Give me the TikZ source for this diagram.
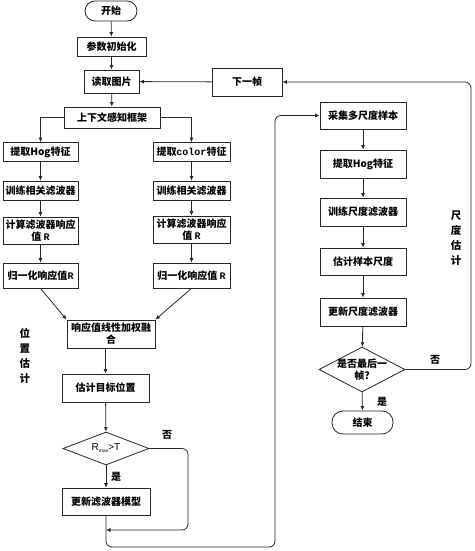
\documentclass[tikz,border=0pt]{standalone}
\usepackage{fontspec}
\usetikzlibrary{shapes.geometric,arrows.meta}
\newfontfamily\cjk{Noto Sans CJK SC}
\newfontfamily\monof{Liberation Mono}
\newfontfamily\arialf{Liberation Sans}
\tikzset{
  base/.style={draw=black!85,line width=0.8pt,font=\cjk\bfseries\fontsize{10pt}{12pt}\selectfont,align=center,inner sep=0pt},
  box/.style={base,rectangle},
  term/.style={base,rectangle,rounded corners=10pt},
  dec/.style={base,diamond,aspect=2.4},
  arr/.style={draw=black!85,line width=0.8pt,-{Latex[length=4.5pt,width=4pt]}},
  ln/.style={draw=black!85,line width=0.8pt},
  lbl/.style={font=\cjk\bfseries\fontsize{10pt}{12pt}\selectfont,inner sep=0pt},
  vlbl/.style={font=\cjk\bfseries\fontsize{10.5pt}{15pt}\selectfont,align=center,inner sep=0pt}
}
\begin{document}
\begin{tikzpicture}[x=1pt,y=-1pt]
\useasboundingbox (0,0) rectangle (474,551);
% left column
\node[term,minimum width=52pt,minimum height=20pt] (start) at (111,11) {开始};
\node[box,minimum width=69pt,minimum height=19pt] (init) at (111.5,46.5) {参数初始化};
\node[box,minimum width=55pt,minimum height=23pt] (read) at (111.5,81.5) {读取图片};
\node[box,minimum width=96pt,minimum height=21pt] (ctx) at (112,117.5) {上下文感知框架};
\node[box,minimum width=70pt,minimum height=28pt] (next) at (247,82) {下一帧};
\node[box,minimum width=75pt,minimum height=19pt] (hogL) at (40.5,152) {提取Hog特征};
\node[box,minimum width=77pt,minimum height=19pt] (colR) at (191.5,152) {提取{\monof\bfseries color}特征};
\node[box,minimum width=75pt,minimum height=19pt] (trL) at (40.5,190.5) {训练相关滤波器};
\node[box,minimum width=77pt,minimum height=19pt] (trR) at (191.5,190.5) {训练相关滤波器};
\node[box,minimum width=75pt,minimum height=27pt] (caL) at (40.5,230.5) {计算滤波器响应\\值 {\monof\bfseries R}};
\node[box,minimum width=77pt,minimum height=27pt] (caR) at (191.5,229.5) {计算滤波器响应\\值 {\monof\bfseries R}};
\node[box,minimum width=75pt,minimum height=25pt] (noL) at (40.5,275.5) {归一化响应值{\monof\bfseries R}};
\node[box,minimum width=77pt,minimum height=25pt] (noR) at (191.5,275.5) {归一化响应值 {\monof\bfseries R}};
\node[box,minimum width=88pt,minimum height=28pt] (fuse) at (111,334) {响应值线性加权融\\合};
\node[box,minimum width=87pt,minimum height=28pt] (est) at (105.5,388) {估计目标位置};
\node[dec,minimum width=86pt,minimum height=33pt] (d1) at (106,448.5) {\arialf\mdseries R\raisebox{-2pt}{\fontsize{5pt}{6pt}\selectfont max}>T};
\node[box,minimum width=88pt,minimum height=27pt] (upd) at (106,501.5) {更新滤波器模型};
% right column
\node[box,minimum width=86pt,minimum height=27pt] (samp) at (363,115.5) {采集多尺度样本};
\node[box,minimum width=86pt,minimum height=28pt] (hog2) at (363,164) {提取Hog特征};
\node[box,minimum width=86pt,minimum height=28pt] (trS) at (363,212) {训练尺度滤波器};
\node[box,minimum width=86pt,minimum height=27pt] (esS) at (363,261.5) {估计样本尺度};
\node[box,minimum width=86pt,minimum height=28pt] (upS) at (363,312) {更新尺度滤波器};
\node[dec,minimum width=86pt,minimum height=45pt,aspect=1.9] (d2) at (362,369.5) {};
\node[lbl,align=center] (d2t) at (362,369.5) {是否最后一\\帧?};
\node[term,minimum width=61pt,minimum height=23pt,rounded corners=11pt] (end) at (362.5,422.5) {结束};
% labels
\node[vlbl] (lpos) at (25,356) {位\\置\\估\\计};
\node[vlbl] (lsca) at (456,238.5) {尺\\度\\估\\计};
\node[lbl] (no1) at (167,435) {否};
\node[lbl] (yes1) at (116,477) {是};
\node[lbl] (no2) at (435,360) {否};
\node[lbl] (yes2) at (382,402) {是};
% coordinates
\coordinate (c1) at (188,530);
\coordinate (m1) at (106,530);
\coordinate (c2) at (275,547);
\coordinate (c3) at (471,82);
% connectors
\draw[arr] (start) -- (init);
\draw[arr] (init) -- (read);
\draw[arr] (read) -- (ctx);
\draw[arr] (ctx.west) -| (hogL.north);
\draw[arr] (ctx.east) -| (colR.north);
\draw[arr] (hogL) -- (trL);
\draw[arr] (trL) -- (caL);
\draw[arr] (caL) -- (noL);
\draw[arr] (colR) -- (trR);
\draw[arr] (trR) -- (caR);
\draw[arr] (caR) -- (noR);
\draw[arr] (noL.south) -- (fuse.north west);
\draw[arr] (noR.south) -- (fuse.north east);
\draw[arr] (est.north |- fuse.south) -- (est.north);
\draw[arr] (est) -- (d1);
\draw[arr] (d1) -- (upd);
\draw[arr,rounded corners=6pt] (d1.east) -| (c1) -- (m1);
\draw[arr,rounded corners=6pt] (upd.south) |- (c2) |- (samp.west);
\draw[arr] (samp) -- (hog2);
\draw[arr] (hog2) -- (trS);
\draw[arr] (trS) -- (esS);
\draw[arr] (esS) -- (upS);
\draw[arr] (upS) -- (d2);
\draw[arr] (d2) -- (end);
\draw[arr,rounded corners=6pt] (d2.east) -| (c3) -- (next.east);
\draw[arr] (next) -- (read);
\end{tikzpicture}
\end{document}
